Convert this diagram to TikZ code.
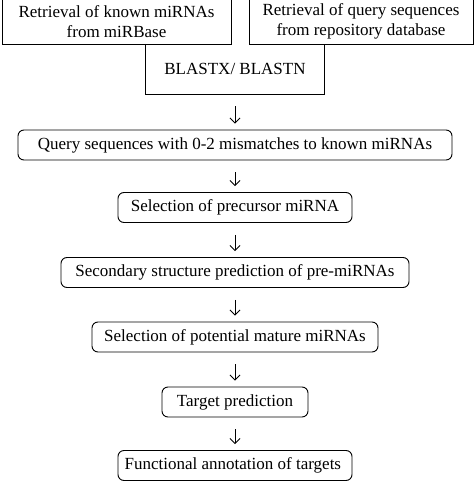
\documentclass[tikz,border=0pt]{standalone}
\usepackage{fontspec}
\setmainfont{Liberation Serif}
\usetikzlibrary{arrows.meta,positioning}

\begin{document}
\begin{tikzpicture}[x=1pt,y=-1pt,
    every node/.style={font=\fontsize{17}{20}\selectfont, align=center, inner sep=0pt},
    srcbox/.style={draw, line width=0.9pt, minimum height=45pt},
    stepbox/.style={draw, rounded corners=6pt, line width=0.9pt, minimum height=30pt},
    flow/.style={-{Straight Barb[length=5pt,width=10pt]}, line width=0.8pt, shorten <=12pt, shorten >=6pt}]
    \useasboundingbox (0,0) rectangle (474,481);

    % Sources
    \node[srcbox, minimum width=229pt] (known) at (116.5,21.5) {Retrieval of known miRNAs\\from miRBase};
    \node[srcbox, minimum width=224pt] (repo) at (361,21.5) {Retrieval of query sequences\\from repository database};

    % Search (open on top, closed by the two source boxes)
    \node[minimum width=179pt, minimum height=50pt] (blast) at (235,69) {BLASTX/ BLASTN};
    \draw[line width=0.9pt] (blast.north west) |- (blast.south east) -- (blast.north east);

    % Pipeline steps
    \foreach \n/\y/\w/\t in {
            q/145/434/Query sequences with 0-2 mismatches to known miRNAs,
            sel/207.5/234/Selection of precursor miRNA,
            sec/272.5/348/Secondary structure prediction of pre-miRNAs,
            pot/337/286/Selection of potential mature miRNAs,
            tgt/402/146/Target prediction,
            func/465.5/234/Functional annotation of targets
            } {
        \node[stepbox, minimum width=\w pt] (\n) at (235,\y) {\t};
    }

    % Arrows
    \foreach \a/\b in {blast/q, q/sel, sel/sec, sec/pot, pot/tgt, tgt/func} {
        \draw[flow] (\a.south) -- (\b.north);
    }
\end{tikzpicture}
\end{document}
